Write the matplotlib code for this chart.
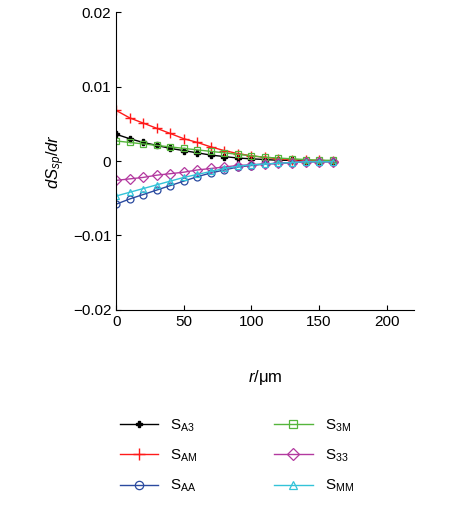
import matplotlib.pyplot as plt

r = [0, 10, 20, 30, 40, 50, 60, 70, 80, 90, 100, 110, 120, 130, 140, 150, 160]

s_a3 = [0.0036, 0.0030, 0.0025, 0.0021, 0.0017, 0.0014, 0.0011, 0.0008, 0.0006, 0.0004, 0.0003, 0.0002, 0.0001, 0.0001, 0.0000, 0.0000, 0.0000]
s_am = [0.0068, 0.0058, 0.0051, 0.0044, 0.0037, 0.0030, 0.0025, 0.0019, 0.0014, 0.0010, 0.0007, 0.0005, 0.0003, 0.0002, 0.0001, 0.0001, 0.0000]
s_aa = [-0.0058, -0.0051, -0.0045, -0.0039, -0.0033, -0.0027, -0.0021, -0.0016, -0.0012, -0.0008, -0.0006, -0.0004, -0.0003, -0.0002, -0.0001, -0.0001, -0.0001]
s_3m = [0.0027, 0.0025, 0.0023, 0.0021, 0.0019, 0.0017, 0.0015, 0.0013, 0.0011, 0.0009, 0.0007, 0.0005, 0.0004, 0.0003, 0.0002, 0.0001, 0.0001]
s_33 = [-0.0026, -0.0024, -0.0022, -0.0019, -0.0017, -0.0015, -0.0012, -0.0010, -0.0008, -0.0006, -0.0005, -0.0004, -0.0003, -0.0002, -0.0001, -0.0001, -0.0001]
s_mm = [-0.0047, -0.0042, -0.0037, -0.0032, -0.0027, -0.0022, -0.0018, -0.0014, -0.0010, -0.0007, -0.0005, -0.0004, -0.0003, -0.0002, -0.0001, -0.0001, -0.0001]

plt.rcParams["font.family"] = ["Liberation Sans", "DejaVu Sans"]
plt.rcParams["mathtext.fontset"] = "custom"
plt.rcParams["mathtext.rm"] = "Liberation Sans"
plt.rcParams["mathtext.it"] = "Liberation Sans:italic"

fig = plt.figure(figsize=(4.74, 5.08), dpi=100)
ax = fig.add_axes([0.245, 0.39, 0.628, 0.586])

series = [
    (s_a3, "black", "P", r"S$_{\rm A3}$"),
    (s_am, "#ff1a1a", "+", r"S$_{\rm AM}$"),
    (s_aa, "#2a4a9f", "o", r"S$_{\rm AA}$"),
    (s_3m, "#55b53c", "s", r"S$_{\rm 3M}$"),
    (s_33, "#b3399f", "D", r"S$_{33}$"),
    (s_mm, "#33c3d8", "^", r"S$_{\rm MM}$"),
]
for vals, c, m, lab in series:
    if m == "P":
        ax.plot(r, vals, color=c, marker="P", ms=4, lw=1, label=lab)
    elif m == "+":
        ax.plot(r, vals, color=c, marker="+", ms=7, mew=1, lw=1, label=lab)
    else:
        ax.plot(r, vals, color=c, marker=m, ms=5, mfc="none", mew=0.9, lw=1, label=lab)

ax.set_xlim(0, 220)
ax.set_ylim(-0.02, 0.02)
ax.set_xticks([0, 50, 100, 150, 200])
ax.set_yticks([-0.02, -0.01, 0, 0.01, 0.02])
ax.set_yticklabels(["\u22120.02", "\u22120.01", "0", "0.01", "0.02"])
ax.spines["top"].set_visible(False)
ax.spines["right"].set_visible(False)
ax.tick_params(direction="in", labelsize=11)
ax.set_xlabel(r"$r$/μm", fontsize=12, labelpad=28)
ax.set_ylabel(r"$dS_{sp}/dr$", fontsize=12)

fig.legend(loc="lower center", bbox_to_anchor=(0.5, 0.0), ncol=2, frameon=False,
           fontsize=11, columnspacing=5, handlelength=2.5, labelspacing=0.9,
           markerscale=1.2)

fig.savefig("out.png", dpi=100)
